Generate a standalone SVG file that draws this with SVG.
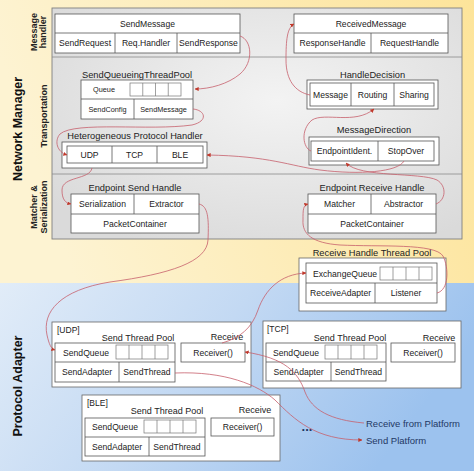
<svg xmlns="http://www.w3.org/2000/svg" width="474" height="471" viewBox="0 0 474 471">
<defs>
<linearGradient id="gy" x1="0" y1="0.2" x2="1" y2="0">
<stop offset="0" stop-color="#fdf3d2"/>
<stop offset="1" stop-color="#fde49a"/>
</linearGradient>
<linearGradient id="gb" x1="0" y1="0" x2="1" y2="0.3">
<stop offset="0" stop-color="#e1ecf8"/>
<stop offset="0.5" stop-color="#c3d9f3"/>
<stop offset="1" stop-color="#9cc2ee"/>
</linearGradient>
<radialGradient id="gg" cx="0.55" cy="0.4" r="0.7">
<stop offset="0" stop-color="#f3f3f3"/>
<stop offset="1" stop-color="#dadada"/>
</radialGradient>
<marker id="ar" viewBox="0 0 6 6" refX="5.5" refY="3" markerWidth="4" markerHeight="4" markerUnits="userSpaceOnUse" orient="auto">
<path d="M0,0 L6,3 L0,6 z" fill="#c0392b"/>
</marker>
<style>
text{font-family:"Liberation Sans",Arial,sans-serif;fill:#222}
.s{font-size:8.6px;text-anchor:middle}
.xs{font-size:7.3px;text-anchor:middle}
.h{font-size:9.3px;text-anchor:middle}
.l{font-size:8.5px}
.lb{font-size:9px;font-weight:bold;text-anchor:middle}
.big{font-size:12.5px;font-weight:bold;text-anchor:middle;fill:#111}
.pl{font-size:9.5px;fill:#1f3864}
.bx{fill:#fff;stroke:#555;stroke-width:0.8}
.ob{fill:#fff;stroke:#666;stroke-width:0.8}
.ln{stroke:#555;stroke-width:0.8;fill:none}
.q{fill:#fff;stroke:#777;stroke-width:0.7}
.c{fill:none;stroke:#c7606c;stroke-width:0.8}
</style>
</defs>

<g id="background">
<rect x="0" y="0" width="474" height="284" fill="url(#gy)"/>
<rect x="0" y="283" width="474" height="188" fill="url(#gb)"/>
<rect x="52" y="8" width="410" height="231" fill="url(#gg)" stroke="#7f7f7f" stroke-width="0.9"/>
<line x1="52" y1="57" x2="462" y2="57" stroke="#8a8a8a" stroke-width="0.8"/>
<line x1="52" y1="174" x2="462" y2="174" stroke="#8a8a8a" stroke-width="0.8"/>
</g>

<g id="labels">
<text class="big" transform="translate(22,129) rotate(-90)">Network Manager</text>
<text class="big" transform="translate(22,386) rotate(-90)">Protocol Adapter</text>
<text class="lb" transform="translate(37,32) rotate(-90)">Message</text>
<text class="lb" transform="translate(46,32) rotate(-90)">handler</text>
<text class="lb" transform="translate(47,116) rotate(-90)">Transportation</text>
<text class="lb" transform="translate(37,207) rotate(-90)">Matcher &amp;</text>
<text class="lb" transform="translate(46.5,207) rotate(-90)">Serialization</text>
</g>

<g id="node-sendmessage">
<rect class="bx" x="55" y="14" width="185" height="39"/>
<line class="ln" x1="55" y1="33" x2="240" y2="33"/>
<line class="ln" x1="115" y1="33" x2="115" y2="53"/>
<line class="ln" x1="177" y1="33" x2="177" y2="53"/>
<text class="s" x="147.5" y="26.5">SendMessage</text>
<text class="s" x="85" y="46">SendRequest</text>
<text class="s" x="146" y="46">Req.Handler</text>
<text class="s" x="208.5" y="46">SendResponse</text>
</g>

<g id="node-receivedmessage">
<rect class="bx" x="294" y="14" width="154" height="39"/>
<line class="ln" x1="294" y1="33" x2="448" y2="33"/>
<line class="ln" x1="371" y1="33" x2="371" y2="53"/>
<text class="s" x="371" y="26.5">ReceivedMessage</text>
<text class="s" x="332.5" y="46">ResponseHandle</text>
<text class="s" x="409.5" y="46">RequestHandle</text>
</g>

<g id="node-sendqueueingthreadpool">
<text class="h" x="137" y="78.3">SendQueueingThreadPool</text>
<rect class="bx" x="81" y="80" width="112" height="39"/>
<line class="ln" x1="81" y1="99" x2="193" y2="99"/>
<line class="ln" x1="134" y1="99" x2="134" y2="119"/>
<text class="xs" x="104" y="92.1">Queue</text>
<rect class="q" x="130" y="83" width="51" height="13"/>
<path class="q" d="M142.75,83V96M155.5,83V96M168.25,83V96"/>
<text class="xs" x="107.5" y="111.6">SendConfig</text>
<text class="xs" x="163.5" y="111.6">SendMessage</text>
</g>

<g id="node-handledecision">
<text class="h" x="372.5" y="78.3">HandleDecision</text>
<rect class="bx" x="307" y="80" width="131" height="29"/>
<rect class="bx" x="310" y="83" width="124" height="23"/>
<line class="ln" x1="351" y1="83" x2="351" y2="106"/>
<line class="ln" x1="394" y1="83" x2="394" y2="106"/>
<text class="s" x="330.5" y="97.5">Message</text>
<text class="s" x="372.5" y="97.5">Routing</text>
<text class="s" x="414" y="97.5">Sharing</text>
</g>

<g id="node-protocolhandler">
<text class="h" x="135" y="139.3">Heterogeneous Protocol Handler</text>
<rect class="bx" x="62" y="142" width="145" height="26"/>
<rect class="bx" x="67" y="146" width="136" height="17"/>
<line class="ln" x1="112" y1="146" x2="112" y2="163"/>
<line class="ln" x1="157" y1="146" x2="157" y2="163"/>
<text class="s" x="89.5" y="157.5">UDP</text>
<text class="s" x="134.5" y="157.5">TCP</text>
<text class="s" x="180" y="157.5">BLE</text>
</g>

<g id="node-messagedirection">
<text class="h" x="374" y="133.3">MessageDirection</text>
<rect class="bx" x="309" y="137" width="130" height="28"/>
<rect class="bx" x="311" y="141" width="123" height="20"/>
<line class="ln" x1="378" y1="141" x2="378" y2="161"/>
<text class="s" x="344.5" y="154">EndpointIdent.</text>
<text class="s" x="406" y="154">StopOver</text>
</g>

<g id="node-endpointsend">
<text class="h" x="135" y="191.3">Endpoint Send Handle</text>
<rect class="bx" x="71" y="194" width="128" height="39"/>
<line class="ln" x1="71" y1="214" x2="199" y2="214"/>
<line class="ln" x1="134" y1="194" x2="134" y2="214"/>
<text class="s" x="102.5" y="207">Serialization</text>
<text class="s" x="166.5" y="207">Extractor</text>
<text class="s" x="135" y="226.5">PacketContainer</text>
</g>

<g id="node-endpointreceive">
<text class="h" x="372" y="191.3">Endpoint Receive Handle</text>
<rect class="bx" x="308" y="194" width="128" height="39"/>
<line class="ln" x1="308" y1="214" x2="436" y2="214"/>
<line class="ln" x1="371" y1="194" x2="371" y2="214"/>
<text class="s" x="339.5" y="207">Matcher</text>
<text class="s" x="403.5" y="207">Abstractor</text>
<text class="s" x="372" y="226.5">PacketContainer</text>
</g>

<g id="node-receivehandlethreadpool">
<text class="h" x="372" y="256.3">Receive Handle Thread Pool</text>
<rect class="ob" x="299" y="258" width="147" height="53"/>
<rect class="bx" x="306" y="263" width="131" height="40"/>
<line class="ln" x1="306" y1="283" x2="437" y2="283"/>
<line class="ln" x1="375" y1="283" x2="375" y2="303"/>
<text class="s" x="345" y="276.5">ExchangeQueue</text>
<rect class="q" x="380" y="267" width="52" height="13"/>
<path class="q" d="M393,267V280M406,267V280M419,267V280"/>
<text class="s" x="340.5" y="296">ReceiveAdapter</text>
<text class="s" x="406" y="296">Listener</text>
</g>

<g id="node-udp">
<rect class="ob" x="52" y="322" width="199" height="65"/>
<text class="l" x="57" y="333">[UDP]</text>
<text class="h" x="138" y="341" style="font-size:9px">Send Thread Pool</text>
<text class="h" x="227" y="340" style="font-size:9px">Receive</text>
<rect class="bx" x="55" y="343" width="120" height="39"/>
<line class="ln" x1="55" y1="362" x2="175" y2="362"/>
<line class="ln" x1="119" y1="362" x2="119" y2="382"/>
<text class="s" x="86" y="355.5">SendQueue</text>
<rect class="q" x="116" y="345" width="52" height="14"/>
<path class="q" d="M129,345V359M142,345V359M155,345V359"/>
<text class="s" x="87" y="375">SendAdapter</text>
<text class="s" x="147" y="375">SendThread</text>
<rect class="bx" x="181" y="343" width="64" height="19"/>
<text class="s" x="213" y="355.5">Receiver()</text>
</g>

<g id="node-tcp">
<rect class="ob" x="263" y="321" width="198" height="67"/>
<text class="l" x="267" y="332">[TCP]</text>
<text class="h" x="350" y="341" style="font-size:9px">Send Thread Pool</text>
<text class="h" x="439" y="341" style="font-size:9px">Receive</text>
<rect class="bx" x="266" y="343" width="120" height="38"/>
<line class="ln" x1="266" y1="362" x2="386" y2="362"/>
<line class="ln" x1="331" y1="362" x2="331" y2="381"/>
<text class="s" x="296" y="355.5">SendQueue</text>
<rect class="q" x="325" y="345" width="52" height="14"/>
<path class="q" d="M338,345V359M351,345V359M364,345V359"/>
<text class="s" x="298.5" y="374.5">SendAdapter</text>
<text class="s" x="358.5" y="374.5">SendThread</text>
<rect class="bx" x="391" y="343" width="64" height="19"/>
<text class="s" x="423" y="355.5">Receiver()</text>
</g>

<g id="node-ble">
<rect class="ob" x="82" y="395" width="198" height="66"/>
<text class="l" x="87" y="406">[BLE]</text>
<text class="h" x="167" y="414" style="font-size:9px">Send Thread Pool</text>
<text class="h" x="255" y="413" style="font-size:9px">Receive</text>
<rect class="bx" x="85" y="418" width="120" height="38"/>
<line class="ln" x1="85" y1="437" x2="205" y2="437"/>
<line class="ln" x1="149" y1="437" x2="149" y2="456"/>
<text class="s" x="115" y="430">SendQueue</text>
<rect class="q" x="144" y="420" width="52" height="13"/>
<path class="q" d="M157,420V433M170,420V433M183,420V433"/>
<text class="s" x="117" y="449.5">SendAdapter</text>
<text class="s" x="177" y="449.5">SendThread</text>
<rect class="bx" x="211" y="418" width="63" height="18"/>
<text class="s" x="242.5" y="430">Receiver()</text>
</g>

<g id="node-platform">
<text x="307" y="431" style="font-size:13px;font-weight:bold;text-anchor:middle;fill:#1f3864">...</text>
<text class="pl" x="366" y="426.5">Receive from Platform</text>
<text class="pl" x="366" y="443.5">Send Platform</text>
</g>

<g id="connectors">
<path class="c" marker-end="url(#ar)" d="M240 36 C252 40, 254 62, 240 74 C228 84, 210 89, 195 89"/>
<path class="c" marker-end="url(#ar)" d="M193 109 C205 110, 209 121, 192 125 C150 131, 75 121, 60 134 C54 141, 57 152, 67 155"/>
<path class="c" marker-end="url(#ar)" d="M92 168 C90 180, 62 176, 62 190 C62 199, 65 203, 71 204"/>
<path class="c" marker-end="url(#ar)" d="M199 204 C208 206, 209 218, 208 240 C207 262, 170 274, 110 282 C60 290, 42 312, 47 335 C49 344, 51 349, 55 350"/>
<path class="c" marker-end="url(#ar)" d="M175 373 C225 371, 258 385, 275 400 C295 420, 315 440, 362 440"/>
<path class="c" marker-end="url(#ar)" d="M364 423 C330 420, 312 410, 305 392 C298 372, 285 358, 245 352"/>
<path class="c" marker-end="url(#ar)" d="M222 343 C240 338, 252 328, 258 310 C265 290, 280 274, 306 273"/>
<path class="c" marker-end="url(#ar)" d="M437 293 C449 290, 449 268, 443 256 C435 243, 380 247, 340 245 C312 243, 302 234, 303 220 C303 210, 303 205, 308 204"/>
<path class="c" marker-end="url(#ar)" d="M436 204 C446 200, 447 186, 437 180 C420 172, 360 178, 346 163"/>
<path class="c" marker-end="url(#ar)" d="M404 161 C398 172, 360 175, 320 170 C290 166, 270 156, 207 155"/>
<path class="c" marker-end="url(#ar)" d="M311 151 C303 148, 300 130, 312 120 C325 112, 355 125, 374 109"/>
<path class="c" marker-end="url(#ar)" d="M310 95 C295 92, 286 80, 286 60 C286 40, 287 28, 294 24"/>
</g>
</svg>
